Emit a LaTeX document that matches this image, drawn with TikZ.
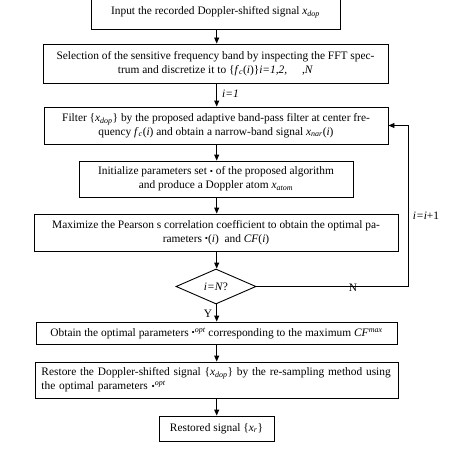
\documentclass[tikz,border=0pt]{standalone}
\usepackage{fontspec}
\setmainfont{Liberation Serif}
\usetikzlibrary{shapes.geometric,arrows.meta}
\newcommand{\sxx}[1]{\textit{x}\textsubscript{\textit{#1}}}
\newcommand{\bdot}{\raisebox{0.15ex}{\scalebox{0.8}{•}}}
\begin{document}
\begin{tikzpicture}[x=1pt,y=-1pt,
  box/.style={draw,line width=0.9pt,rectangle,inner sep=0pt,align=center,font=\fontsize{11.4}{14}\selectfont},
  dia/.style={draw,line width=0.9pt,diamond,aspect=2.3,inner sep=0pt,minimum width=80pt,minimum height=35pt,font=\fontsize{11.4}{12}\selectfont},
  arr/.style={line width=0.9pt,-{Triangle[length=6pt,width=5pt]}},
  lbl/.style={font=\fontsize{11.4}{12}\selectfont,inner sep=0pt}]
\useasboundingbox (0,0) rectangle (474,452);
\node[box,minimum width=249pt,minimum height=33pt] (b1) at (215.5,12.5) {Input the recorded Doppler-shifted signal \sxx{dop}};
\node[box,minimum width=345pt,minimum height=39pt] (b2) at (215.5,63.5) {Selection of the sensitive frequency band by inspecting the FFT spec-\\trum and discretize it to \{\textit{f}\textsubscript{\textit{c}}(\textit{i})\}\textit{i=1,2,}\hspace{1.3em},\textit{N}};
\node[box,minimum width=344pt,minimum height=37pt] (b3) at (216,125.5) {Filter \{\sxx{dop}\} by the proposed adaptive band-pass filter at center fre-\\quency \textit{f}\textsubscript{\textit{c}}(\textit{i}) and obtain a narrow-band signal \sxx{nar}(\textit{i})};
\node[box,minimum width=274pt,minimum height=36pt] (b4) at (216,179) {Initialize parameters set \bdot\ of the proposed algorithm\\and produce a Doppler atom \sxx{atom}};
\node[box,minimum width=364pt,minimum height=37pt] (b5) at (216,232.5) {Maximize the Pearson s correlation coefficient to obtain the optimal pa-\\rameters \bdot(\textit{i})\ \ and \textit{CF}(\textit{i})};
\node[dia] (d) at (216,286.5) {\textit{i=N}?};
\node[box,minimum width=361pt,minimum height=22pt] (b6) at (216.5,333) {Obtain the optimal parameters \bdot\textsuperscript{\textit{opt}} corresponding to the maximum \textit{CF}\textsuperscript{\textit{max}}};
\node[box,minimum width=363pt,minimum height=36pt,text width=350pt,align=left] (b7) at (216.5,380) {Restore the Doppler-shifted signal \{\sxx{dop}\} by the re-sampling method using\\the optimal parameters \bdot\textsuperscript{\textit{opt}}};
\node[box,minimum width=115pt,minimum height=25pt] (b8) at (216.5,428.5) {Restored signal \{\sxx{r}\}};
\coordinate (lc) at (408,286.5);
\draw[arr] (b1.south -| 216.7,0) -- (b2.north -| 216.7,0);
\draw[arr] (b2.south -| 216.7,0) -- (b3.north -| 216.7,0);
\draw[arr] (b3.south -| 216.7,0) -- (b4.north -| 216.7,0);
\draw[arr] (b4.south -| 216.7,0) -- (b5.north -| 216.7,0);
\draw[arr] (b5.south -| 216.7,0) -- (d.north -| 216.7,0);
\draw[arr] (d.south -| 216.7,0) -- (b6.north -| 216.7,0);
\draw[arr] (b6.south -| 216.7,0) -- (b7.north -| 216.7,0);
\draw[arr] (b7.south -| 216.7,0) -- (b8.north -| 216.7,0);
\draw[arr] (d.east) -- (lc) |- (b3.east);
\node[lbl,anchor=west] (l1) at (222,94) {\textit{i=1}};
\node[lbl] (ly) at (208,314) {Y};
\node[lbl] (ln) at (353,287.5) {N};
\node[lbl] (li) at (426,216) {\textit{i=i}+1};
\end{tikzpicture}
\end{document}
